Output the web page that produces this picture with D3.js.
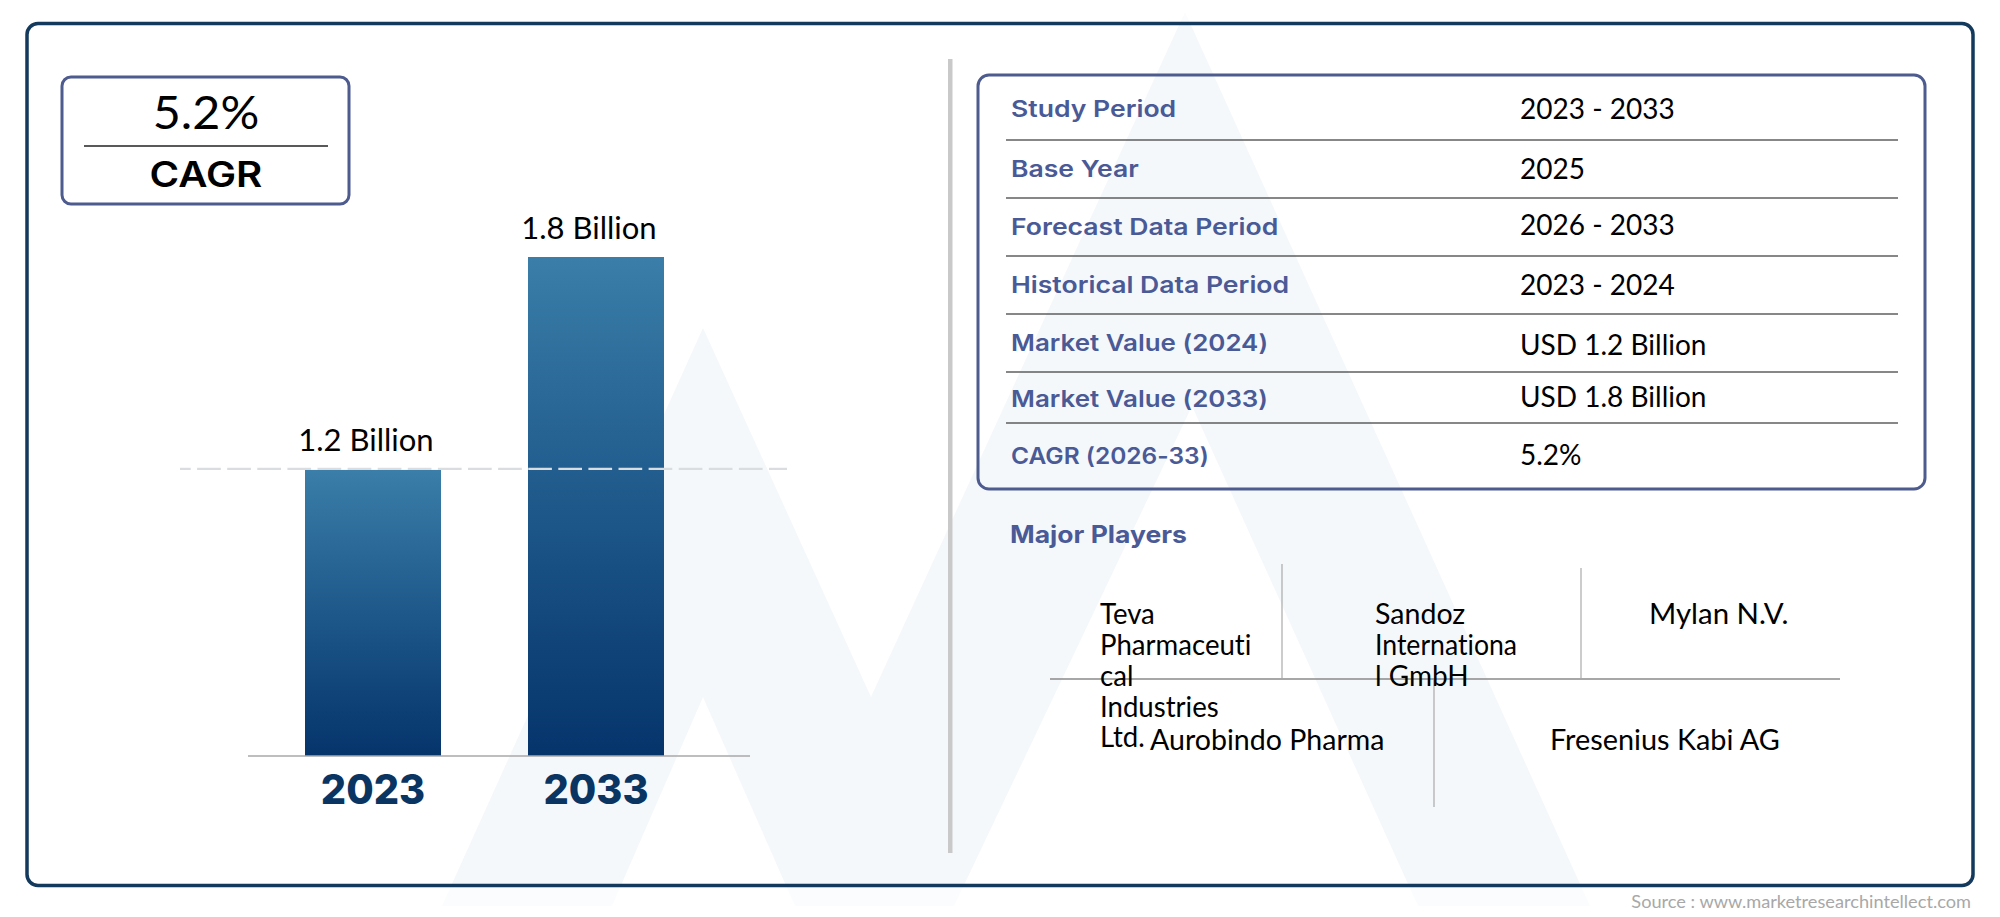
<!DOCTYPE html>
<html><head><meta charset="utf-8">
<script src="https://cdn.jsdelivr.net/npm/d3@7/dist/d3.min.js"></script>
<style>
html,body{margin:0;padding:0;background:#fff}
svg{display:block}
text{font-variant-ligatures:none}
.j{font-family:Lato,sans-serif;fill:#000}
.m{font-family:Inter,sans-serif}
</style></head><body>
<svg id="c" width="2000" height="917"></svg>
<script>
const years=["2023","2033"];
const values=[1.2,1.8];
const valueLabels=["1.2 Billion","1.8 Billion"];
const cagrValue="5.2%";
const cagrTitle="CAGR";
const rowLabels=["Study Period","Base Year","Forecast Data Period","Historical Data Period","Market Value (2024)","Market Value (2033)","CAGR (2026-33)"];
const rowValues=["2023 - 2033","2025","2026 - 2033","2023 - 2024","USD 1.2 Billion","USD 1.8 Billion","5.2%"];
const playersTitle="Major Players";
const tevaLines=["Teva","Pharmaceuti","cal","Industries","Ltd."];
const sandozLines=["Sandoz","Internationa","l GmbH"];
const mylan="Mylan N.V.";
const aurobindo="Aurobindo Pharma";
const fresenius="Fresenius Kabi AG";
const source="Source : www.marketresearchintellect.com";

const svg=d3.select("#c");
const defs=svg.append("defs");
const NAVY="#133a5c",BOX="#4d5b8e",LAB="#4a5a96";
const stretch=(sel,k)=>sel.each(function(d,i){
  const w=this.getComputedTextLength();
  this.setAttribute("textLength",w*(typeof k==="function"?k(i):k));
  this.setAttribute("lengthAdjust","spacingAndGlyphs");
});

// layout
const rowLabelY=[117,177,235,293,351,407,464];
const rowValueY=[119,179,235,295,355,407,465];
const ruleY=[140,198,256,314,372,423];
const rowLabelStretch=[1.155,1.155,1.155,1.155,1.127,1.127,1.065];

// watermark
const wm="M703,328L442,906L612,906L703,697L795,906L965,906L954,906L1192,406L1418,906L1590,906L1185,12L871,697Z";
defs.append("clipPath").attr("id","fr").append("rect").attr("x",27).attr("y",23.5).attr("width",1946).attr("height",862).attr("rx",11);
svg.append("path").attr("d",wm).attr("fill","#fbfcfd");
svg.append("path").attr("d",wm).attr("fill","#f5f8fb").attr("clip-path","url(#fr)");

// frame
svg.append("rect").attr("x",27).attr("y",23.5).attr("width",1946).attr("height",862).attr("rx",11)
  .attr("fill","none").attr("stroke",NAVY).attr("stroke-width",3.5);

// CAGR box
svg.append("rect").attr("x",62).attr("y",77).attr("width",287).attr("height",127).attr("rx",9)
  .attr("fill","none").attr("stroke",BOX).attr("stroke-width",3);
svg.append("line").attr("x1",84).attr("x2",328).attr("y1",146).attr("y2",146).attr("stroke","#222").attr("stroke-width",1.3);
svg.append("text").attr("class","j").attr("x",206).attr("y",129).attr("text-anchor","middle").attr("font-size",47).text(cagrValue).call(stretch,1.03);
svg.append("text").attr("class","m").attr("x",206).attr("y",187).attr("text-anchor","middle").attr("font-size",35).attr("font-weight",600).attr("fill","#000").text(cagrTitle).call(stretch,1.15);

// bars
const x=d3.scaleBand().domain(years).range([305,664]).paddingInner(87/223).paddingOuter(0);
const y=d3.scaleLinear().domain([0.394,1.8]).range([756,257]);
const grad=defs.append("linearGradient").attr("id","bg").attr("x1",0).attr("x2",0).attr("y1",0).attr("y2",1);
grad.append("stop").attr("offset",0).attr("stop-color","#3a7ea9");
grad.append("stop").attr("offset",0.5).attr("stop-color","#1e588a");
grad.append("stop").attr("offset",1).attr("stop-color","#05346b");
svg.selectAll("rect.bar").data(years).join("rect").attr("class","bar")
  .attr("x",d=>x(d)).attr("width",x.bandwidth())
  .attr("y",(d,i)=>y(values[i])).attr("height",(d,i)=>y.range()[0]-y(values[i]))
  .attr("fill","url(#bg)");
// reference dashed line at first value
svg.append("line").attr("x1",180).attr("x2",787).attr("y1",y(values[0])-1).attr("y2",y(values[0])-1)
  .attr("stroke","#d9dde0").attr("stroke-width",2.2).attr("stroke-dasharray","23.7 6.4").attr("stroke-dashoffset",13);
// baseline
svg.append("line").attr("x1",248).attr("x2",750).attr("y1",756).attr("y2",756).attr("stroke","#a9a9a9").attr("stroke-width",1.6);
// labels
svg.selectAll("text.vl").data(years).join("text").attr("class","vl j")
  .attr("x",d=>x(d)+x.bandwidth()/2-7).attr("y",(d,i)=>y(values[i])-18.5)
  .attr("text-anchor","middle").attr("font-size",31).text((d,i)=>valueLabels[i]);
const ax=svg.append("g").attr("transform","translate(0,756)").call(d3.axisBottom(x).tickSize(0).tickPadding(0));
ax.select(".domain").remove();
ax.selectAll("text").attr("class","m").attr("dy",0).attr("y",48)
  .attr("font-size",41).attr("font-weight",800).attr("fill","#0a3562").attr("font-family","Inter,sans-serif").call(stretch,0.97);

// separator
svg.append("rect").attr("x",948).attr("y",59).attr("width",4.5).attr("height",794).attr("fill","#c9c9c9");

// table
svg.append("rect").attr("x",978).attr("y",75).attr("width",947).attr("height",414).attr("rx",11)
  .attr("fill","none").attr("stroke",BOX).attr("stroke-width",3);
svg.selectAll("line.rule").data(ruleY).join("line").attr("class","rule").attr("x1",1006).attr("x2",1898)
  .attr("y1",d=>d).attr("y2",d=>d).attr("stroke","#111").attr("stroke-width",1.2);
svg.selectAll("text.rl").data(rowLabels).join("text").attr("class","rl m").attr("x",1011).attr("y",(d,i)=>rowLabelY[i])
  .attr("font-size",23).attr("font-weight",600).attr("fill",LAB).text(d=>d).call(stretch,i=>rowLabelStretch[i]);
svg.selectAll("text.rv").data(rowValues).join("text").attr("class","rv j").attr("x",1520).attr("y",(d,i)=>rowValueY[i])
  .attr("font-size",28).text(d=>d);

// players
svg.append("text").attr("class","m").attr("x",1010).attr("y",543).attr("font-size",24).attr("font-weight",700).attr("fill",LAB).text(playersTitle).call(stretch,1.105);
[[1282,564,678],[1581,568,678]].forEach(l=>svg.append("line").attr("x1",l[0]).attr("x2",l[0]).attr("y1",l[1]).attr("y2",l[2]).attr("stroke","#999").attr("stroke-width",1));
svg.append("line").attr("x1",1050).attr("x2",1840).attr("y1",679).attr("y2",679).attr("stroke","#8a8a8a").attr("stroke-width",1.6);
svg.append("line").attr("x1",1434).attr("x2",1434).attr("y1",680).attr("y2",807).attr("stroke","#999").attr("stroke-width",1);
const plain=(t,xx,yy,k)=>svg.append("text").attr("class","j").attr("x",xx).attr("y",yy).attr("font-size",28).text(t).call(stretch,k);
tevaLines.forEach((t,i)=>plain(t,1100,[624,655,686,717,747][i],0.985));
sandozLines.forEach((t,i)=>plain(t,1375,624+31*i,[1.02,0.95,1][i]));
plain(mylan,1649,624,1.05);
plain(aurobindo,1150,750,1.02);
plain(fresenius,1550,750,1.03);

// source
svg.append("text").attr("x",1971).attr("y",908).attr("text-anchor","end").attr("font-family","Lato,sans-serif").attr("font-size",18.2).attr("fill","#a8a8a8").text(source);
</script>
</body></html>
